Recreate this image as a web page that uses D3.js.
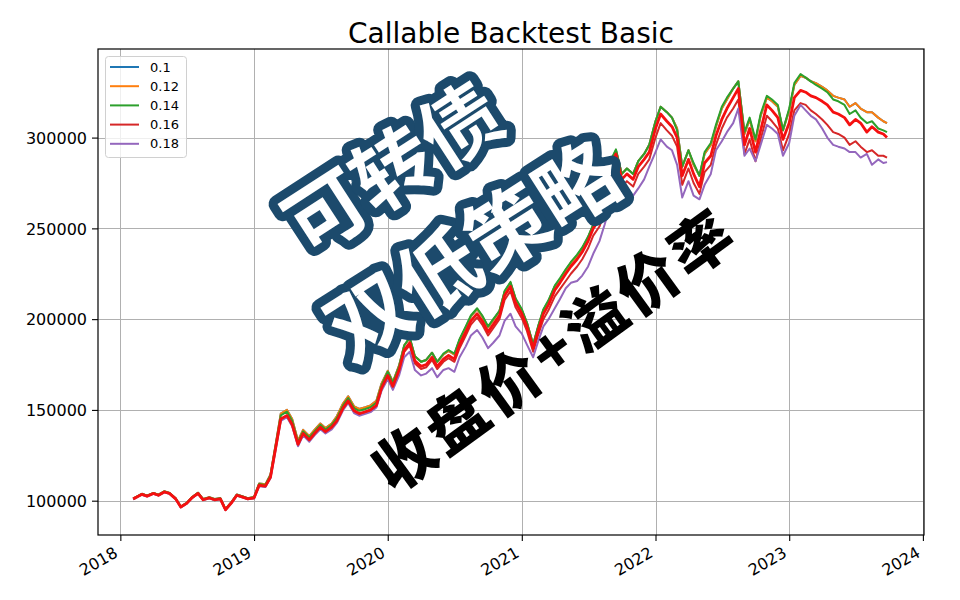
<!DOCTYPE html>
<html><head><meta charset="utf-8">
<script src="https://cdn.jsdelivr.net/npm/d3@7"></script>
<style>body{margin:0;background:#fff}svg{display:block}</style>
</head><body>
<svg id="c" width="960" height="600"></svg>
<script>
// ---------------- data (values in thousands) ----------------
const dates = [
"2018-02-05","2018-02-15","2018-03-01","2018-03-15","2018-04-01","2018-04-15","2018-05-01","2018-05-15","2018-06-01","2018-06-15","2018-07-01","2018-07-15","2018-08-01","2018-08-15","2018-09-01","2018-09-15","2018-10-01","2018-10-15","2018-11-01","2018-11-15","2018-12-01","2018-12-15",
"2019-01-01","2019-01-15","2019-02-01","2019-02-15","2019-03-01","2019-03-15","2019-04-01","2019-04-15","2019-05-01","2019-05-15","2019-06-01","2019-06-15","2019-07-01","2019-07-15","2019-08-01","2019-08-15","2019-09-01","2019-09-15","2019-10-01","2019-10-15","2019-11-01","2019-11-15","2019-12-01","2019-12-15",
"2020-01-01","2020-01-15","2020-02-01","2020-02-15","2020-03-01","2020-03-15","2020-04-01","2020-04-15","2020-05-01","2020-05-15","2020-06-01","2020-06-15","2020-07-01","2020-07-15","2020-08-01","2020-08-15","2020-09-01","2020-09-15","2020-10-01","2020-10-15","2020-11-01","2020-11-15","2020-12-01","2020-12-15",
"2021-01-01","2021-01-15","2021-02-01","2021-02-15","2021-03-01","2021-03-15","2021-04-01","2021-04-15","2021-05-01","2021-05-15","2021-06-01","2021-06-15","2021-07-01","2021-07-15","2021-08-01","2021-08-15","2021-09-01","2021-09-15","2021-10-01","2021-10-15","2021-11-01","2021-11-15","2021-12-01","2021-12-15",
"2022-01-01","2022-01-15","2022-02-01","2022-02-15","2022-03-01","2022-03-15","2022-04-01","2022-04-15","2022-05-01","2022-05-15","2022-06-01","2022-06-15","2022-07-01","2022-07-15","2022-08-01","2022-08-15","2022-09-01","2022-09-15","2022-10-01","2022-10-15","2022-11-01","2022-11-15","2022-12-01","2022-12-15",
"2023-01-01","2023-01-15","2023-02-01","2023-02-15","2023-03-01","2023-03-15","2023-04-01","2023-04-15","2023-05-01","2023-05-15","2023-06-01","2023-06-15","2023-07-01","2023-07-15","2023-08-01","2023-08-15","2023-09-01","2023-09-15","2023-09-25"];

const s010 = [
101.2,102.3,103.8,102.8,104.3,103.3,105.2,104.3,101.3,96.8,98.8,101.8,104.4,100.9,101.9,100.9,101.4,95.4,99.4,103.4,102.4,101.4,
102.0,109.5,109.0,114.5,131.0,148.0,150.0,145.0,133.0,139.0,135.5,139.0,142.5,140.0,142.5,146.5,153.5,157.5,152.0,150.5,151.5,152.5,155.0,164.5,
171.5,165.5,174.5,185.5,189.5,179.5,176.5,177.5,181.5,176.5,180.5,182.5,180.5,188.5,195.5,201.5,205.5,201.5,195.5,199.5,204.5,215.0,220.0,211.0,
205.0,198.0,186.0,196.0,205.0,210.0,218.0,222.0,227.0,231.0,235.0,239.0,245.0,252.0,257.0,265.0,287.0,293.0,280.0,283.0,280.0,287.0,291.0,296.0,
309.0,317.0,314.0,311.0,305.0,284.0,293.0,285.0,279.0,291.0,296.0,306.0,316.0,321.0,327.0,331.0,302.0,310.0,298.0,312.0,322.0,320.0,317.0,304.0,
315.0,329.0,334.0,333.0,331.0,330.0,328.0,326.0,323.0,322.0,321.0,317.0,319.0,316.0,314.0,314.0,311.0,309.0,308.0];

const s012 = [
101.2,102.3,103.8,102.8,104.3,103.3,105.2,104.3,101.3,96.8,98.8,101.8,104.4,100.9,101.9,100.9,101.4,95.4,99.4,103.4,102.4,101.4,
102.0,109.5,109.0,114.5,131.0,148.0,150.0,145.0,133.0,139.0,135.5,139.0,142.5,140.0,142.5,146.5,153.5,157.5,152.0,150.5,151.5,152.5,155.0,164.5,
171.5,165.5,174.5,185.5,189.5,179.5,176.5,177.5,181.5,176.5,180.5,182.5,180.5,188.5,195.5,201.5,205.5,201.5,195.5,199.5,204.5,215.0,220.0,211.0,
205.0,198.0,186.0,196.0,205.0,210.0,218.0,222.0,227.0,231.0,235.0,239.0,245.0,252.0,257.0,265.0,287.0,293.0,280.0,283.0,280.0,287.0,291.0,296.0,
309.0,317.0,314.0,311.0,305.0,284.0,293.0,285.0,279.0,291.0,296.0,306.0,316.0,321.0,327.0,331.0,302.0,310.0,298.0,312.0,322.0,320.0,317.0,304.0,
315.0,329.0,334.0,333.0,331.0,330.0,328.0,326.0,323.0,322.0,321.0,317.0,319.0,316.0,314.0,314.0,311.0,309.0,308.0];

const s014 = [
101.1,102.2,103.7,102.7,104.2,103.2,105.1,104.2,101.2,96.7,98.7,101.7,104.3,100.8,101.8,100.8,101.3,95.3,99.3,103.3,102.3,101.3,
101.9,109.2,108.7,114.0,130.2,147.0,149.0,144.0,132.2,138.2,134.8,138.2,141.8,139.2,141.8,145.5,152.5,156.5,151.0,149.5,150.5,151.5,154.0,163.5,
171.0,165.0,174.0,185.5,190.0,179.5,176.5,177.5,181.5,176.5,181.0,183.0,181.0,189.0,196.0,202.0,206.0,202.0,196.0,200.0,204.5,215.5,220.5,211.5,
205.5,198.0,186.0,196.5,205.5,210.5,218.5,222.5,227.5,231.5,235.5,239.5,245.5,252.0,257.0,265.0,287.5,293.5,280.0,283.0,280.0,287.0,291.0,296.0,
309.0,317.0,314.0,311.0,304.0,284.0,293.0,286.0,279.0,292.0,297.0,307.0,317.0,322.0,327.0,331.0,303.0,311.0,299.0,313.0,323.0,321.0,318.0,304.0,
316.0,330.0,335.0,333.0,331.0,329.0,327.0,325.0,321.0,320.0,318.0,313.0,315.0,311.0,308.0,309.0,305.0,304.0,303.0];

const s016 = [
100.9,101.9,103.4,102.4,103.9,102.9,104.7,103.9,100.9,96.4,98.4,101.4,103.9,100.4,101.4,100.4,100.9,94.9,98.9,102.9,101.9,100.9,
101.4,108.3,107.8,112.8,128.8,144.6,146.6,141.6,130.7,136.6,133.2,136.6,140.0,137.6,140.0,143.6,150.5,154.5,149.0,147.6,148.6,149.6,152.0,161.4,
168.0,162.0,171.0,182.0,185.5,175.5,172.5,173.5,177.5,172.5,176.5,178.5,176.5,184.0,191.0,197.0,201.0,197.0,191.0,195.0,200.0,210.5,215.5,206.5,
200.5,193.5,182.0,191.5,200.0,205.0,212.5,216.5,221.0,225.0,229.0,233.0,239.0,246.0,251.0,259.0,280.0,286.0,273.0,276.0,273.0,280.0,284.0,288.0,
300.0,308.0,304.0,301.0,295.0,274.0,283.0,275.0,269.0,281.0,285.0,296.0,305.0,311.0,316.0,321.0,291.0,299.0,287.0,299.0,312.0,309.0,305.0,293.0,
302.0,315.0,319.0,318.0,315.0,313.0,310.0,307.0,303.0,302.0,300.0,296.0,298.0,295.0,292.0,293.0,290.0,290.0,289.0];

const s018 = [
100.8,101.8,103.3,102.3,103.8,102.8,104.6,103.8,100.8,96.3,98.3,101.3,103.8,100.3,101.3,100.3,100.8,94.8,98.8,102.8,101.8,100.8,
101.3,108.0,107.5,112.5,128.0,144.0,146.0,141.0,130.0,136.0,132.5,136.0,139.3,137.0,139.3,142.8,149.8,153.8,148.3,146.8,147.8,148.8,151.3,160.5,
167.0,161.0,169.0,179.0,182.0,172.0,169.0,170.0,173.0,168.0,172.0,173.0,171.0,179.0,185.0,191.0,194.0,190.0,184.0,187.0,191.0,199.0,203.0,196.0,
192.0,186.0,179.0,188.0,196.0,200.0,206.0,211.0,217.0,220.0,221.0,224.0,229.0,236.0,243.0,252.0,264.0,270.0,262.0,265.0,268.0,272.0,277.0,284.0,
292.0,299.0,295.0,293.0,285.0,267.0,276.0,268.0,266.0,274.0,280.0,293.0,298.0,303.0,308.0,316.0,290.0,294.0,287.0,296.0,307.0,305.0,302.0,290.0,
297.0,312.0,318.0,315.0,312.0,310.0,305.0,300.0,296.0,295.0,294.0,292.0,292.0,289.0,291.0,285.0,288.0,286.0,286.5];

// highlighted (bright red, unlabelled) curve drawn over the others
const highlight = [
101.0,102.0,103.5,102.5,104.0,103.0,104.8,104.0,101.0,96.5,98.5,101.5,104.0,100.5,101.5,100.5,101.0,95.0,99.0,103.0,102.0,101.0,
101.5,108.5,108.0,113.0,129.0,145.0,147.0,142.0,131.0,137.0,133.5,137.0,140.5,138.0,140.5,144.0,151.0,155.0,149.5,148.0,149.0,150.0,152.5,162.0,
169.0,163.0,172.0,183.0,187.0,177.0,174.0,175.0,179.0,174.0,178.0,180.0,178.0,186.0,193.0,199.0,203.0,199.0,193.0,197.0,202.0,213.0,218.0,209.0,
203.0,196.0,184.0,194.0,203.0,208.0,216.0,220.0,225.0,229.0,233.0,237.0,243.0,250.0,255.0,263.0,285.0,291.0,277.0,280.0,277.0,284.0,288.0,292.0,
305.0,313.0,309.0,306.0,300.0,279.0,288.0,280.0,273.0,286.0,290.0,301.0,310.0,316.0,322.0,327.0,296.0,305.0,292.0,304.0,318.0,315.0,311.0,299.0,
308.0,322.0,326.0,325.0,323.0,322.0,320.0,318.0,314.0,313.0,311.0,307.0,310.0,308.0,303.0,306.0,303.0,302.0,300.0];

const seriesNames = ["0.1","0.12","0.14","0.16","0.18"];
const seriesColors = ["#1f77b4","#ff7f0e","#2ca02c","#d62728","#9467bd"];
const yTicks = [100000,150000,200000,250000,300000];
const xTickLabels = ["2018","2019","2020","2021","2022","2023","2024"];
const titleText = "Callable Backtest Basic";
const overlayA = "可转债";
const overlayB = "双低策略";
const overlayC = "收盘价+溢价率";

// ---------------- drawing ----------------
const svg = d3.select("#c");
const L = 98, R = 924, T = 49, B = 535;
const parse = d3.timeParse("%Y-%m-%d");
const x = d3.scaleTime().domain([parse("2017-11-01"), parse("2024-01-04")]).range([L, R]);
const y = d3.scaleLinear().domain([81100, 348800]).range([B, T]);
const xTicks = xTickLabels.map(s => parse(s + "-01-01"));
const font = "'DejaVu Sans', sans-serif";

svg.append("rect").attr("width", 960).attr("height", 600).attr("fill", "#fff");

// grid
const grid = svg.append("g").attr("stroke", "#b0b0b0").attr("stroke-width", 1);
grid.selectAll("line.v").data(xTicks).join("line").attr("class", "v")
  .attr("x1", d => Math.round(x(d)) + 0.5).attr("x2", d => Math.round(x(d)) + 0.5).attr("y1", T).attr("y2", B);
grid.selectAll("line.h").data(yTicks).join("line").attr("class", "h")
  .attr("x1", L).attr("x2", R).attr("y1", d => Math.round(y(d)) + 0.5).attr("y2", d => Math.round(y(d)) + 0.5);

// lines
svg.append("clipPath").attr("id", "clip").append("rect").attr("x", L).attr("y", T).attr("width", R - L).attr("height", B - T);
const plot = svg.append("g").attr("clip-path", "url(#clip)");
const line = d3.line().x((d, i) => x(parse(dates[i]))).y(d => y(d * 1000));
const allSeries = [s010, s012, s014, s016, s018];
allSeries.forEach((s, i) => {
  plot.append("path").datum(s).attr("d", line).attr("fill", "none")
    .attr("stroke", seriesColors[i]).attr("stroke-width", 2).attr("stroke-linejoin", "round");
});
plot.append("path").datum(highlight).attr("d", line).attr("fill", "none")
  .attr("stroke", "#f51010").attr("stroke-width", 2.8).attr("stroke-linejoin", "round");

// axes
const xAxis = svg.append("g").attr("transform", `translate(0,${B})`)
  .call(d3.axisBottom(x).tickValues(xTicks).tickFormat(d3.timeFormat("%Y")).tickSizeOuter(0).tickSize(6));
xAxis.select(".domain").remove();
xAxis.selectAll(".tick line").attr("stroke", "#000").attr("stroke-width", 1.1);
xAxis.selectAll(".tick text").attr("font-family", font).attr("font-size", 16).attr("fill", "#000")
  .attr("text-anchor", "end").attr("y", 0).attr("dy", 0)
  .attr("transform", "translate(-2,21) rotate(-30)");

const yAxis = svg.append("g").attr("transform", `translate(${L},0)`)
  .call(d3.axisLeft(y).tickValues(yTicks).tickFormat(d3.format("d")).tickSizeOuter(0).tickSize(6).tickPadding(5));
yAxis.select(".domain").remove();
yAxis.selectAll(".tick line").attr("stroke", "#000").attr("stroke-width", 1.1);
yAxis.selectAll(".tick text").attr("font-family", font).attr("font-size", 16).attr("fill", "#000").attr("dy", "0.36em");

// spines
svg.append("rect").attr("x", L).attr("y", T).attr("width", R - L).attr("height", B - T)
  .attr("fill", "none").attr("stroke", "#000").attr("stroke-width", 1.2);

// title
svg.append("text").attr("x", (L + R) / 2).attr("y", 43).attr("text-anchor", "middle")
  .attr("font-family", font).attr("font-size", 28).attr("fill", "#000").text(titleText);

// legend
const lg = svg.append("g");
lg.append("rect").attr("x", 105.5).attr("y", 56.5).attr("width", 81).attr("height", 101).attr("rx", 3)
  .attr("fill", "#fff").attr("fill-opacity", 0.8).attr("stroke", "#d0d0d0");
seriesNames.forEach((n, i) => {
  const yy = 67 + i * 19.2;
  lg.append("line").attr("x1", 110).attr("x2", 139).attr("y1", yy).attr("y2", yy)
    .attr("stroke", seriesColors[i]).attr("stroke-width", 2);
  lg.append("text").attr("x", 150).attr("y", yy).attr("dy", "0.36em").attr("font-family", font)
    .attr("font-size", 13).attr("fill", "#000").text(n);
});

// overlay captions
const cjk = "'Noto Sans CJK SC','Noto Sans CJK JP',sans-serif";
function caption(txt, cx, cy, ang, size, opts) {
  const t = svg.append("text").attr("transform", `translate(${cx},${cy}) rotate(${ang})`)
    .attr("text-anchor", "middle").attr("dominant-baseline", "central")
    .attr("font-family", cjk).attr("font-size", size).attr("font-weight", opts.weight)
    .attr("fill", opts.fill).text(txt);
  if (opts.stroke) t.attr("stroke", opts.stroke).attr("stroke-width", opts.sw)
    .attr("stroke-linejoin", "round").attr("paint-order", "stroke");
  if (opts.len) t.attr("textLength", opts.len).attr("lengthAdjust", "spacing");
  return t;
}
caption(overlayA, 390, 164, -33, 80, {weight: 700, fill: "#fff", stroke: "#1c4a6c", sw: 18});
caption(overlayB, 470, 246, -32.5, 82, {weight: 700, fill: "#fff", stroke: "#1c4a6c", sw: 18});
caption(overlayC, 550, 348, -36, 61, {weight: 900, fill: "#000", len: 427});
</script>
</body></html>
